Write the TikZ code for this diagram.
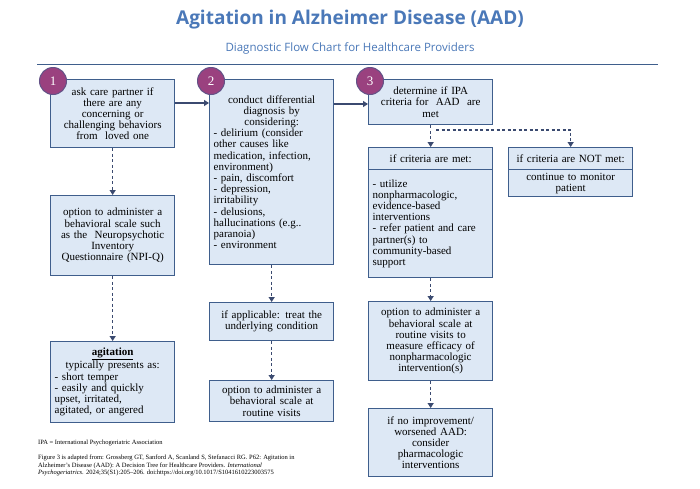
\documentclass[tikz,border=0pt]{standalone}
\usepackage{fontspec}
\setmainfont{Liberation Serif}
\newfontfamily\titlefont{Open Sans}
\usetikzlibrary{arrows.meta}
\definecolor{tblue}{HTML}{4A78B8}
\definecolor{bfill}{HTML}{DDE8F5}
\definecolor{bdraw}{HTML}{3F5E8C}
\definecolor{arr}{HTML}{3B4A70}
\definecolor{purp}{HTML}{9A417F}
\newcommand{\cl}[1]{\makebox[116pt][c]{#1}}
\tikzset{
 x=1pt,y=-1pt,
 bx/.style={draw=bdraw,fill=bfill,line width=1.3pt,minimum width=124pt,text width=116pt,align=center,font=\fontsize{11}{11.2}\selectfont,inner sep=4pt,anchor=north west},
 num/.style={circle,draw=bdraw!60!purp,fill=purp,line width=1pt,minimum size=27pt,inner sep=0pt,text=white,font=\fontsize{13}{13}\selectfont},
 solidarr/.style={draw=arr,line width=1.2pt,-{Triangle[length=5pt,width=6pt]}},
 dasharr/.style={draw=arr,line width=1.2pt,dash pattern=on 3pt off 2.5pt,-{Triangle[length=5pt,width=6pt]}},
}
\begin{document}
\begin{tikzpicture}
\fill[white] (0,0) rectangle (700,488);
\useasboundingbox (0,0) rectangle (700,488);
\node[text=tblue,font=\titlefont\bfseries\fontsize{19}{24}\selectfont] (title) at (350,20) {Agitation in Alzheimer Disease (AAD)};
\node[text=tblue,font=\titlefont\fontsize{11.5}{14}\selectfont] (sub) at (350,48) {Diagnostic Flow Chart for Healthcare Providers};
\draw[bdraw,line width=1pt] (37,64) -- (658,64);

\node[bx,minimum height=68pt] (b1) at (50,79) {ask care partner if\\ there are any\\ concerning or\\ challenging behaviors\\ from\ \ loved one};
\node[bx,minimum height=185pt,align=left] (b2) at (209,79) {\cl{conduct differential}\\ \cl{diagnosis by}\\ \cl{considering:}\\
- delirium (consider\\ other causes like\\ medication, infection,\\ environment)\\
- pain, discomfort\\
- depression,\\ irritability\\
- delusions,\\ hallucinations (e.g..\\ paranoia)\\
- environment\\[12pt]};
\node[bx,minimum height=45pt] (b3) at (368,79) {determine if IPA\\ criteria for\ \ AAD\ \ are\\ met};
\node[num] (n1) at (53,81) {1};
\node[num] (n2) at (211,81) {2};
\node[num] (n3) at (370,81) {3};

\node[bx,minimum height=80pt] (b4) at (50,195) {option to administer a\\ behavioral scale such\\ as the\ \ Neuropsychotic\\ Inventory\\ Questionnaire (NPI-Q)};
\node[bx,minimum height=81pt,align=left] (b5) at (50,341) {\cl{\underline{\textbf{agitation}}}\\ \cl{typically presents as:}\\
- short temper\\ - easily and quickly\\ upset, irritated,\\ agitated, or angered};
\node[bx,minimum height=38pt] (b6) at (209,302) {if applicable: treat the\\ underlying condition};
\node[bx,minimum height=41pt] (b7) at (209,380) {option to administer a\\ behavioral scale at\\ routine visits};

\node[bx,minimum height=22pt] (h1) at (368,147) {if criteria are met:};
\node[bx,minimum height=108pt,align=left] (c1) at (368,169) {- utilize\\ nonpharmacologic,\\ evidence-based\\ interventions\\ - refer patient and care\\ partner(s) to\\ community-based\\ support};
\node[bx,minimum height=22pt] (h2) at (508,147) {if criteria are NOT met:};
\node[bx,minimum height=27pt,inner sep=2pt] (c2) at (508,169) {continue to monitor\\ patient};
\node[bx,minimum height=79pt] (b8) at (368,301) {option to administer a\\ behavioral scale at\\ routine visits to\\ measure efficacy of\\ nonpharmacologic\\ intervention(s)};
\node[bx,minimum height=68pt] (b9) at (368,408) {if no improvement/\\ worsened AAD:\\ consider\\ pharmacologic\\ interventions};

\draw[solidarr] (b1.east |- 0,103) -- (b2.west |- 0,103);
\draw[solidarr] (b2.east |- 0,104) -- (b3.west |- 0,104);
\draw[dasharr] (b1.south) -- (b4.north);
\draw[dasharr] (b4.south) -- (b5.north);
\draw[dasharr] (b2.south) -- (b6.north);
\draw[dasharr] (b6.south) -- (b7.north);
\draw[dasharr] (b3.south) -- (h1.north);
\coordinate (j) at (436,130);
\draw[dasharr] (j) -| (h2.north);
\draw[dasharr] (c1.south) -- (b8.north);
\draw[dasharr] (b8.south) -- (b9.north);

\node[anchor=west,font=\fontsize{6.5}{7.5}\selectfont,inner sep=0pt] (fn1) at (38,443) {IPA = International Psychogeriatric Association};
\node[anchor=north west,align=left,font=\fontsize{6.5}{7.5}\selectfont,inner sep=0pt] (fn2) at (38,455) {Figure 3 is adapted from: Grossberg GT, Sanford A, Scanland S, Stefanacci RG. P62: Agitation in\\ Alzheimer's Disease (AAD): A Decision Tree for Healthcare Providers. \textit{International}\\ \textit{Psychogeriatrics}. 2024;35(S1):205--206. doi:https://doi.org/10.1017/S1041610223003575};
\end{tikzpicture}
\end{document}
